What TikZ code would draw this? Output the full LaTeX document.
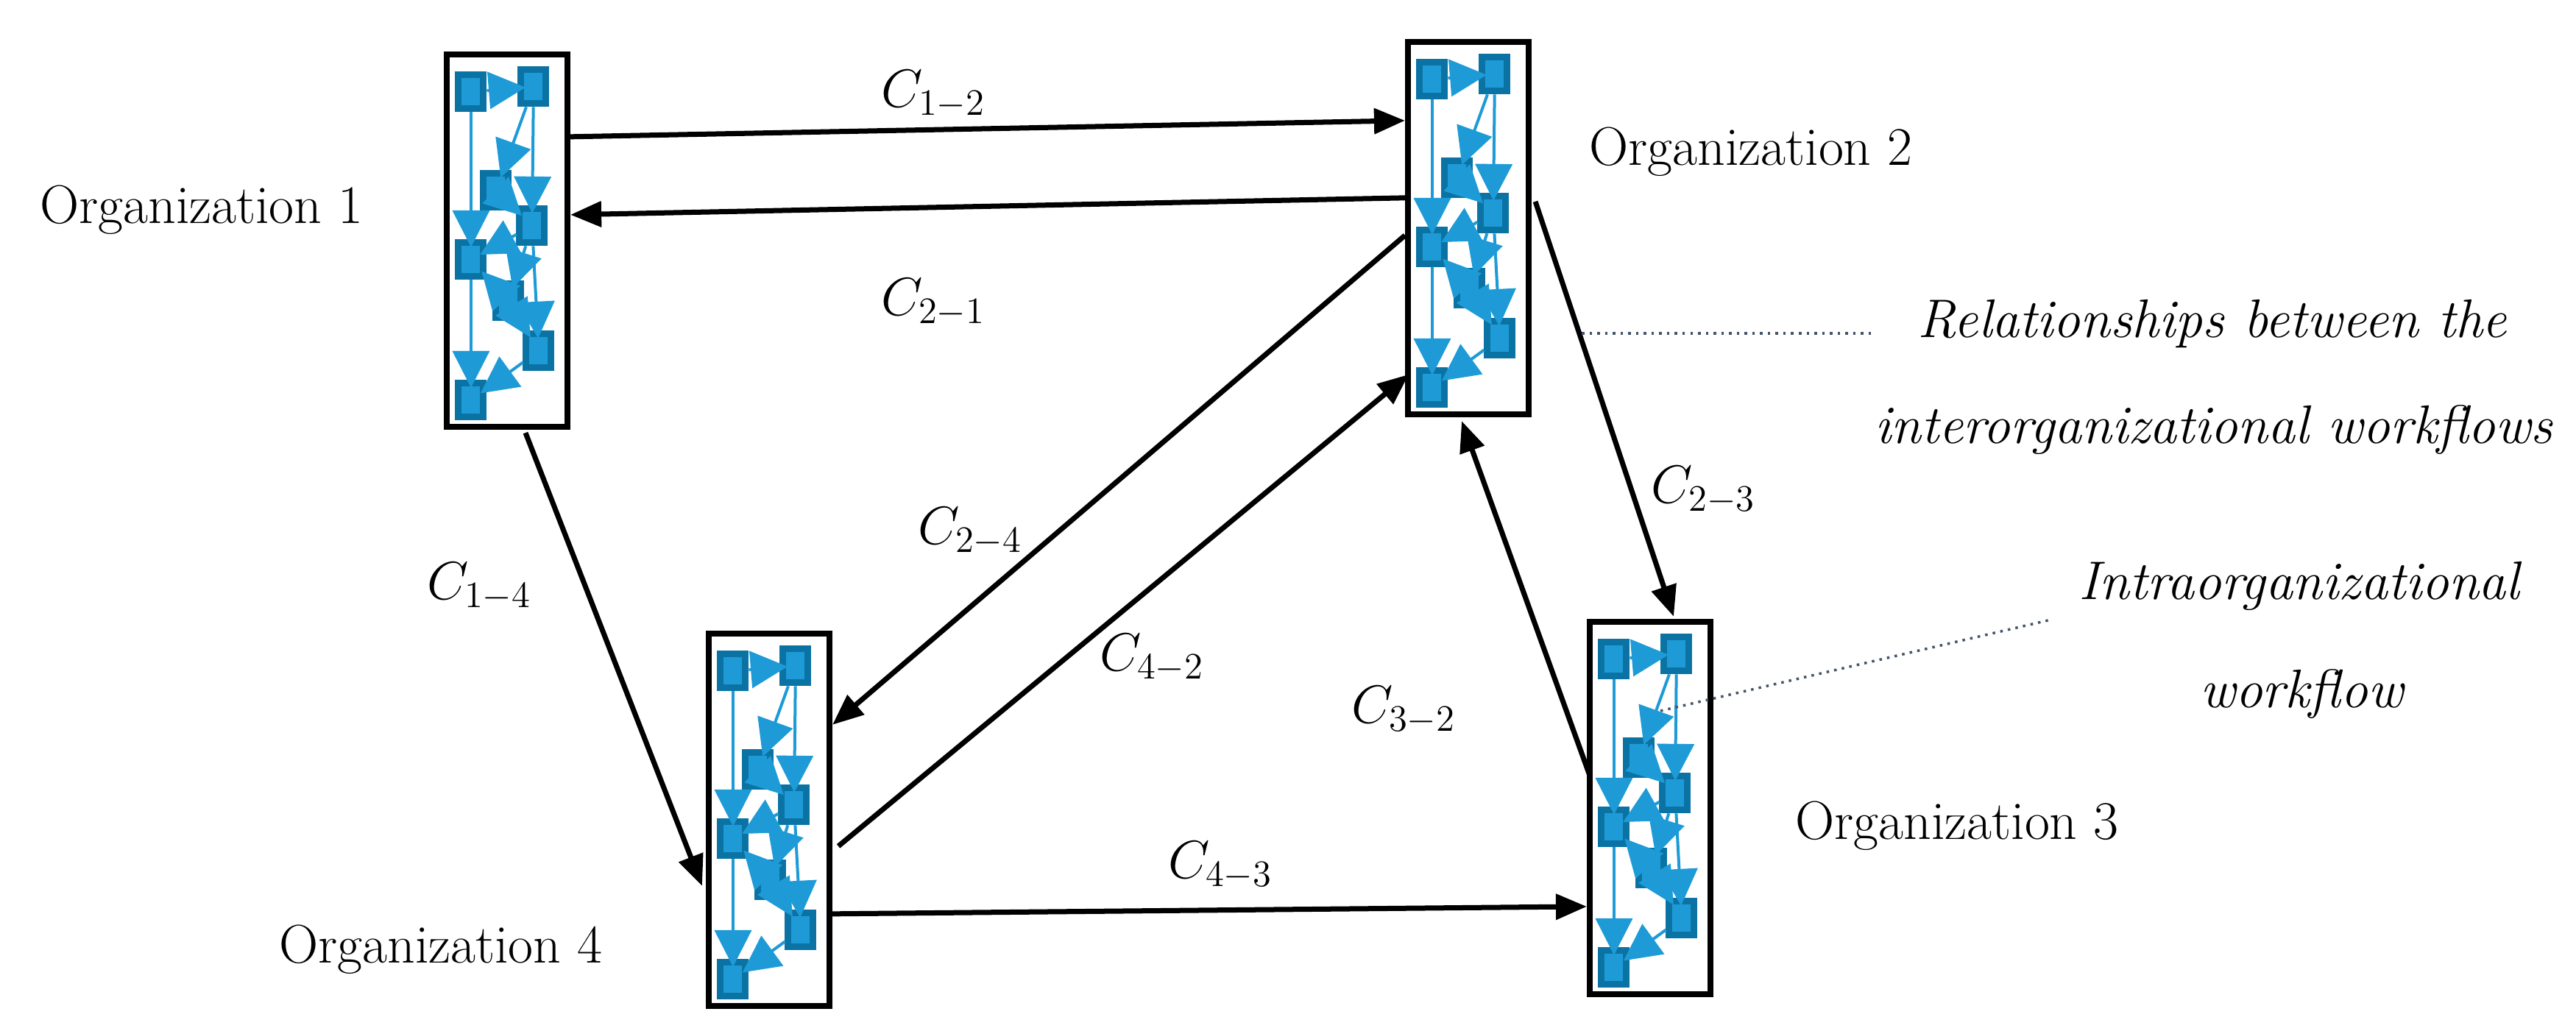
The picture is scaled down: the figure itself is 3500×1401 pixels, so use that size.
\documentclass[tikz,border=0pt]{standalone}
\usetikzlibrary{arrows.meta,calc}
\definecolor{dkb}{HTML}{0B73A4}
\definecolor{ltb}{HTML}{1E9BD7}
\definecolor{lead}{HTML}{44546A}
\begin{document}
\begin{tikzpicture}[x=0.01cm,y=-0.01cm,
  task/.style={rectangle,draw=dkb,fill=ltb,line width=0.09cm,minimum width=0.34cm,minimum height=0.46cm,inner sep=0pt},
  flow/.style={draw=ltb,line width=0.04cm,-{Triangle[length=0.5cm,width=0.5cm]},shorten >=-3pt},
  org/.style={draw=black,line width=0.08cm,fill=white,minimum width=1.64cm,minimum height=5.06cm,inner sep=0pt},
  conn/.style={draw=black,line width=0.07cm,-{Triangle[length=0.42cm,width=0.34cm]}},
  lbl/.style={font=\fontsize{21}{25}\selectfont},
  note/.style={font=\fontsize{21}{25}\selectfont\itshape,align=center},
  lead/.style={draw=lead,line width=0.035cm,dotted},
  wf/.pic={
    \foreach \n/\x/\y in {a/37/51,b/122/44,c/71/185,d/120/233,e/37/279,f/88/335,g/129/403,h/37/470}
      \node[task] (-\n) at (\x,\y) {};
    \foreach \s/\t in {a/b,a/e,b/c,b/d,c/d,d/e,f/e,d/f,d/g,e/h,f/g,g/h}
      \draw[flow] (-\s) -- (-\t);
  }]
\useasboundingbox (0,0) rectangle (3500,1401);
\node[org] (org1) at (689,327) {};
\node[org] (org2) at (1995,310) {};
\node[org] (org3) at (2242,1098) {};
\node[org] (org4) at (1045,1114) {};
\pic (w1) at ($(org1.north west)+(0,4)$) {wf};
\pic (w2) at ($(org2.north west)+(0,4)$) {wf};
\pic (w3) at ($(org3.north west)+(0,4)$) {wf};
\pic (w4) at ($(org4.north west)+(0,4)$) {wf};

\draw[conn] ($(org1.north east)+(0,116)$) -- ($(org2.north west)+(0,111)$);
\draw[conn] ($(org2.north west)+(0,216)$) -- ($(org1.north east)+(0,222)$);
\draw[conn] ($(org1.south)+(25,4)$) -- ($(org4.west)+(-5,90)$);
\draw[conn] ($(org2.north west)+(0,267)$) -- ($(org4.north east)+(0,128)$);
\draw[conn] ($(org4.north east)+(8,293)$) -- ($(org2.north west)+(5,456)$);
\draw[conn] ($(org4.north east)+(0,385)$) -- ($(org3.north west)+(0,391)$);
\draw[conn] ($(org2.north east)+(5,221)$) -- ($(org3.north)+(32,-3)$);
\draw[conn] ($(org3.north west)+(4,213)$) -- ($(org2.south)+(-9,5)$);

\node[lbl] (t1) at (274,285) {Organization 1};
\node[lbl] (t2) at (2379,206) {Organization 2};
\node[lbl] (t3) at (2659,1122) {Organization 3};
\node[lbl] (t4) at (599,1290) {Organization 4};

\node[lbl] (c12) at (1268,128) {$C_{1-2}$};
\node[lbl] (c21) at (1268,411) {$C_{2-1}$};
\node[lbl] (c14) at (651,797) {$C_{1-4}$};
\node[lbl] (c24) at (1318,722) {$C_{2-4}$};
\node[lbl] (c42) at (1565,894) {$C_{4-2}$};
\node[lbl] (c43) at (1658,1176) {$C_{4-3}$};
\node[lbl] (c23) at (2314,666) {$C_{2-3}$};
\node[lbl] (c32) at (1907,965) {$C_{3-2}$};

\node[note] (n1a) at (3006,440) {Relationships between the};
\node[note] (n1b) at (3008,584) {interorganizational workflows};
\node[note] (n2a) at (3124,796) {Intraorganizational};
\node[note] (n2b) at (3127,943) {workflow};
\coordinate (l1a) at (2149,453);
\coordinate (l1b) at (2546,453);
\coordinate (l2a) at (2256,966);
\coordinate (l2b) at (2787,842);
\draw[lead] (l1a) -- (l1b);
\draw[lead] (l2a) -- (l2b);
\end{tikzpicture}
\end{document}
